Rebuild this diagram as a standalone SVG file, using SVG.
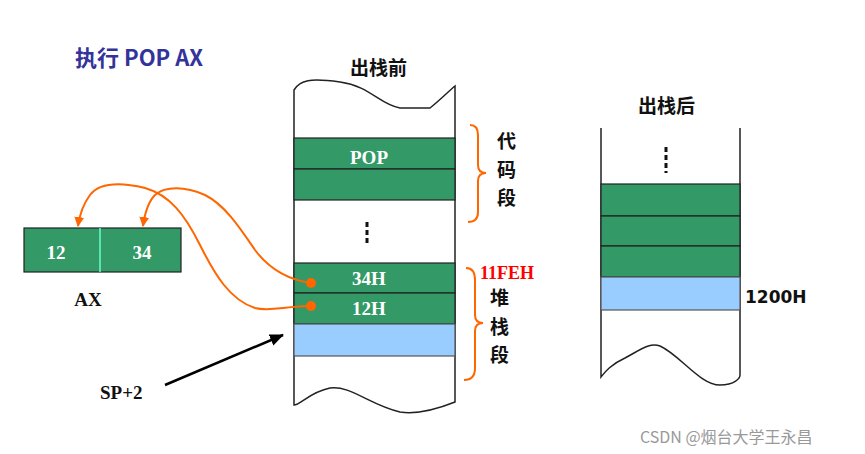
<svg xmlns="http://www.w3.org/2000/svg" width="865" height="454" viewBox="0 0 865 454">
<style>
.g{fill:#339966;stroke:#222;stroke-width:1.2}
.b{fill:#99ccff;stroke:#555;stroke-width:1.2}
.w{fill:#fff;stroke:#222;stroke-width:1.5}
.cjk{font-family:"Noto Sans CJK SC","Liberation Sans",sans-serif;font-weight:bold;font-size:19px;fill:#111}
.tw{font-family:"Liberation Serif",serif;font-weight:bold;font-size:19px;fill:#fff;text-anchor:middle}
.or{fill:none;stroke:#ff6600;stroke-width:2}
</style>
<defs><marker id="ah" markerWidth="10" markerHeight="10" refX="9" refY="5" orient="auto" markerUnits="userSpaceOnUse"><path d="M0,0 L10,5 L0,10 z" fill="#ff6600"/></marker>
<marker id="bh" markerWidth="14" markerHeight="12" refX="13" refY="6" orient="auto" markerUnits="userSpaceOnUse"><path d="M0,0 L14,6 L0,12 z" fill="#000"/></marker></defs>
<text x="75" y="66" font-family="Noto Sans CJK SC,Liberation Sans,sans-serif" font-weight="bold" font-size="22" fill="#333399">执行 POP  AX</text>
<g id="stack-before">
<path class="w" d="M294,90 C300,80 310,78 340,82 C370,86 380,105 400,108 L430,108 C440,100 450,90 455,86 L455,402 C440,408 420,415 400,412 C370,405 350,385 330,388 C310,392 300,405 294,405 Z"/>
<rect class="g" x="294" y="138" width="161" height="31"/><rect class="g" x="294" y="169" width="161" height="31"/>
<text class="tw" x="369" y="164">POP</text>
<line x1="367" y1="222" x2="367" y2="246" stroke="#111" stroke-width="3" stroke-dasharray="5,3"/>
<rect class="g" x="294" y="263" width="161" height="30"/><rect class="g" x="294" y="293" width="161" height="31"/><rect class="b" x="294" y="324" width="161" height="32"/>
<text class="tw" x="369" y="285">34H</text><text class="tw" x="369" y="315">12H</text>
<text class="cjk" x="350" y="75" font-size="18">出栈前</text>
</g>
<g id="braces" class="or">
<path d="M470,125 Q478,125 478,135 L478,165 Q478,173 486,173 Q478,173 478,181 L478,212 Q478,222 468,222"/>
<path d="M466,268 Q475,268 475,280 L475,315 Q475,323 483,323 Q475,323 475,331 L475,368 Q475,380 464,380"/>
</g>
<text class="cjk" x="497" y="148">代</text><text class="cjk" x="497" y="177">码</text><text class="cjk" x="497" y="205">段</text>
<text class="cjk" x="490" y="305">堆</text><text class="cjk" x="490" y="334">栈</text><text class="cjk" x="490" y="362">段</text>
<text x="480" y="279" font-family="Liberation Serif,serif" font-weight="bold" font-size="18" fill="#ff0000">11FEH</text>
<g id="ax">
<rect class="g" x="24" y="228" width="157" height="44" stroke="#339966"/>
<line x1="100" y1="228" x2="100" y2="272" stroke="#66ffcc" stroke-width="1.5"/>
<text class="tw" x="56" y="259">12</text><text class="tw" x="142" y="259">34</text>
<text x="88" y="306" font-family="Liberation Serif,serif" font-weight="bold" font-size="19" fill="#111" text-anchor="middle">AX</text>
</g>
<g id="stack-after">
<path class="w" d="M601,128 L601,377 C605,372 610,365 625,358 C640,350 650,342 660,346 C680,355 700,385 720,385 C735,385 740,378 740,375 L740,128" fill="#fff"/>
<line x1="666" y1="147" x2="666" y2="173" stroke="#111" stroke-width="3" stroke-dasharray="5,3"/>
<rect class="g" x="601" y="184" width="139" height="32"/><rect class="g" x="601" y="216" width="139" height="30"/><rect class="g" x="601" y="246" width="139" height="31"/><rect class="b" x="601" y="277" width="139" height="33"/>
<text class="cjk" x="638" y="113" font-size="18">出栈后</text>
<text x="745" y="303" font-family="DejaVu Sans,sans-serif" font-weight="bold" font-size="17" fill="#111">1200H</text>
</g>
<g id="connectors">
<path class="or" marker-end="url(#ah)" d="M311,306 C285,306 270,312 255,308 C230,300 215,275 200,245 C185,215 170,195 145,188 C120,182 100,182 90,195 C84,203 80,212 78,226"/>
<path class="or" marker-end="url(#ah)" d="M311,283 C290,280 270,270 255,250 C240,228 225,205 205,195 C185,186 165,186 155,195 C148,202 145,212 143,226"/>
<circle cx="311" cy="283" r="5" fill="#ff6600"/><circle cx="311" cy="306" r="5" fill="#ff6600"/>
<line x1="165" y1="385" x2="283" y2="335" stroke="#000" stroke-width="2.5" marker-end="url(#bh)"/>
</g>
<text x="100" y="399" font-family="Liberation Serif,serif" font-weight="bold" font-size="19" fill="#111">SP+2</text>
<text x="640" y="443" font-family="Noto Sans CJK SC,Liberation Sans,sans-serif" font-size="16" fill="#999">CSDN @烟台大学王永昌</text>
</svg>
